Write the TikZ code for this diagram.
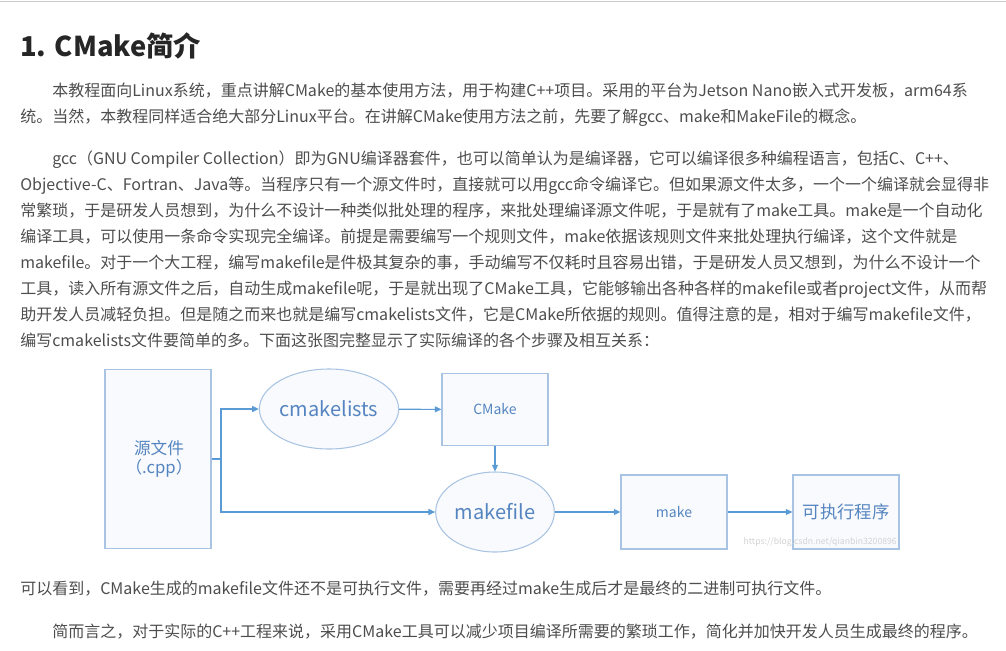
\documentclass[tikz,border=0pt]{standalone}
\usepackage{fontspec}
\setmainfont{Noto Sans CJK SC}
\usetikzlibrary{shapes.geometric,arrows.meta}
\definecolor{txt}{HTML}{4D4D4D}
\definecolor{bd}{HTML}{A9C4E2}
\definecolor{ar}{HTML}{5B9BD5}
\definecolor{dt}{HTML}{5585C0}
\definecolor{fl}{HTML}{F8FAFD}
\tikzset{
 line/.style={anchor=base west,inner sep=0pt,text=txt,font=\fontsize{12pt}{12pt}\selectfont},
 box/.style={draw=bd,line width=0.8pt,fill=fl,inner sep=0pt},
 ell/.style={ellipse,draw=bd,line width=0.8pt,fill=fl,inner sep=0pt},
 lbl/.style={text=dt,inner sep=0pt},
 conn/.style={draw=ar,line width=0.8pt,-{Triangle[length=5pt,width=4.5pt]}},
}
\begin{document}
\begin{tikzpicture}[x=0.75pt,y=-0.75pt]
\useasboundingbox (0,0) rectangle (1006,650);
\draw[line width=0.8pt,color=gray!40] (0,1.5) -- (1006,1.5);
\node[line,font=\fontsize{20.5pt}{20pt}\bfseries\selectfont,text=black!85] (h) at (20,56) {1. CMake简介};
\node[line] (p1) at (52,96) {本教程面向Linux系统，重点讲解CMake的基本使用方法，用于构建C++项目。采用的平台为Jetson Nano嵌入式开发板，arm64系};
\node[line] (p2) at (20,122) {统。当然，本教程同样适合绝大部分Linux平台。在讲解CMake使用方法之前，先要了解gcc、make和MakeFile的概念。};
\node[line] (q1) at (52,164) {gcc（GNU Compiler Collection）即为GNU编译器套件，也可以简单认为是编译器，它可以编译很多种编程语言，包括C、C++、};
\node[line] (q2) at (20,190) {Objective-C、Fortran、Java等。当程序只有一个源文件时，直接就可以用gcc命令编译它。但如果源文件太多，一个一个编译就会显得非};
\node[line] (q3) at (20,216) {常繁琐，于是研发人员想到，为什么不设计一种类似批处理的程序，来批处理编译源文件呢，于是就有了make工具。make是一个自动化};
\node[line] (q4) at (20,242) {编译工具，可以使用一条命令实现完全编译。前提是需要编写一个规则文件，make依据该规则文件来批处理执行编译，这个文件就是};
\node[line] (q5) at (20,268) {makefile。对于一个大工程，编写makefile是件极其复杂的事，手动编写不仅耗时且容易出错，于是研发人员又想到，为什么不设计一个};
\node[line] (q6) at (20,294) {工具，读入所有源文件之后，自动生成makefile呢，于是就出现了CMake工具，它能够输出各种各样的makefile或者project文件，从而帮};
\node[line] (q7) at (20,320) {助开发人员减轻负担。但是随之而来也就是编写cmakelists文件，它是CMake所依据的规则。值得注意的是，相对于编写makefile文件，};
\node[line] (q8) at (20,346) {编写cmakelists文件要简单的多。下面这张图完整显示了实际编译的各个步骤及相互关系：};
\node[line] (r1) at (20,594) {可以看到，CMake生成的makefile文件还不是可执行文件，需要再经过make生成后才是最终的二进制可执行文件。};
\node[line] (s1) at (52,637) {简而言之，对于实际的C++工程来说，采用CMake工具可以减少项目编译所需要的繁琐工作，简化并加快开发人员生成最终的程序。};
% diagram
\node[box,minimum width=79.5pt,minimum height=134pt] (src) at (158,459) {};
\node[lbl,font=\fontsize{12.5pt}{14pt}\selectfont,align=center] (srct) at (159,459) {源文件\\（.cpp）};
\node[ell,minimum width=88.5pt,minimum height=60pt,font=\fontsize{15pt}{15pt}\selectfont,text=dt] (cml) at (329,409) {cmakelists};
\node[box,minimum width=79.5pt,minimum height=54.5pt,font=\fontsize{10.5pt}{12pt}\selectfont,text=dt] (cm) at (495,409.5) {CMake};
\node[ell,minimum width=89pt,minimum height=60pt,font=\fontsize{15pt}{15pt}\selectfont,text=dt] (mf) at (495,512) {makefile};
\node[box,minimum width=79.5pt,minimum height=55.5pt,font=\fontsize{10.5pt}{12pt}\selectfont,text=dt] (mk) at (674,512) {make};
\node[box,minimum width=79.5pt,minimum height=55.5pt,font=\fontsize{13pt}{14pt}\selectfont,text=dt] (ex) at (846,512) {可执行程序};
\coordinate (j) at (221,459);
\draw[draw=ar,line width=0.8pt] (src.east |- j) -- (j);
\draw[conn] (j) |- (cml.west);
\draw[conn] (j) |- (mf.west);
\draw[conn] (cml) -- (cm);
\draw[conn] (cm) -- (mf);
\draw[conn] (mf) -- (mk);
\draw[conn] (mk) -- (ex);
\node[anchor=base east,inner sep=0pt,text=gray!35,font=\fontsize{6.5pt}{7pt}\selectfont] (wm) at (897,544) {https://blog.csdn.net/qianbin3200896};
\end{tikzpicture}
\end{document}
